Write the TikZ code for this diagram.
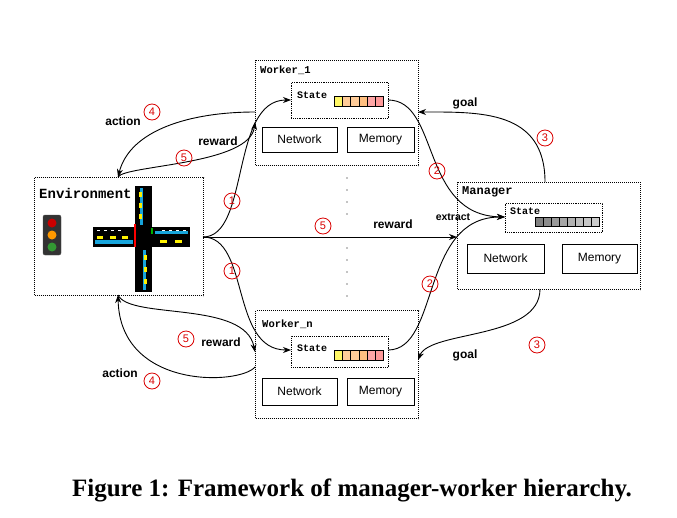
\documentclass[tikz,border=0pt]{standalone}
\usepackage{fontspec}
\setmainfont{Liberation Serif}
\setsansfont{Liberation Sans}
\newfontfamily\monof{Liberation Mono}
\usetikzlibrary{arrows.meta}
\begin{document}
\begin{tikzpicture}[x=1pt,y=-1pt,
  dbox/.style={draw,densely dotted,line width=1pt},
  sbox/.style={draw,densely dotted,line width=0.8pt},
  plain/.style={draw,line width=0.9pt,inner sep=0pt,font=\sffamily\fontsize{12}{12}\selectfont},
  ttl/.style={font=\monof\bfseries\fontsize{10.5}{10.5}\selectfont,anchor=west,inner sep=0pt},
  stl/.style={font=\monof\bfseries\fontsize{10}{10}\selectfont,anchor=west,inner sep=0pt},
  lbl/.style={font=\sffamily\bfseries\fontsize{12}{12}\selectfont,inner sep=1pt},
  num/.style={circle,draw=red!85!black,text=red!85!black,font=\sffamily\fontsize{11}{11}\selectfont,inner sep=0.5pt,minimum size=16pt,line width=0.8pt},
  arr/.style={-{Stealth[length=8pt,width=6pt]},line width=0.9pt}]
\useasboundingbox (0,0) rectangle (677,517);
% Environment
\node[dbox,minimum width=169,minimum height=118,anchor=north west] (env) at (34,177) {};
\node[ttl,font=\monof\bfseries\fontsize{14}{14}\selectfont] (envt) at (39,193) {Environment};
\node[draw=gray!60!black,fill=black!80,rounded corners=2pt,minimum width=18,minimum height=40] (tl) at (52,235) {};
\node[circle,fill=red!80!black,inner sep=0,minimum size=9] (tr) at (52,223) {};
\node[circle,fill=orange!80!yellow,inner sep=0,minimum size=9] (ty) at (52,235) {};
\node[circle,fill=green!50!black!80,inner sep=0,minimum size=9] (tg) at (52,247) {};
\fill[black] (93,227) rectangle (190,247);
\fill[black] (135,186) rectangle (152,292);
\fill[cyan!80!teal] (140,188) rectangle (143,225);
\fill[cyan!80!teal] (143,250) rectangle (146,290);
\fill[cyan!80!teal] (95,240) rectangle (133,244);
\fill[cyan!80!teal] (155,231) rectangle (188,234);
\foreach \y in {192,203,214} \fill[yellow] (139,\y) rectangle (142,\y+5);
\foreach \y in {255,267,279} \fill[yellow] (144,\y) rectangle (147,\y+5);
\foreach \x in {97,110,122} \fill[yellow] (\x,236) rectangle (\x+6,239);
\foreach \x in {160,175} \fill[yellow] (\x,240) rectangle (\x+7,243);
\foreach \x in {97,104,111,118,162,169,176,183} \fill[white] (\x,230) rectangle (\x+3,231);
\fill[red] (134,224) rectangle (136,247);\fill[green!70!black] (151,228) rectangle (153,234);
% Worker_1
\node[dbox,minimum width=163,minimum height=105,anchor=north west] (w1) at (255,60) {};
\node[ttl] (w1t) at (260,70) {Worker\_1};
\node[sbox,minimum width=97,minimum height=36,anchor=north west] (w1s) at (291,82) {};
\node[stl] (w1st) at (297,95) {State};
\node[plain,minimum width=75,minimum height=25] (w1n) at (299.5,139.5) {Network};
\node[plain,minimum width=67,minimum height=25] (w1m) at (380.5,139.5) {Memory};
% Worker_n
\node[dbox,minimum width=163,minimum height=108,anchor=north west] (wn) at (255,310) {};
\node[ttl] (wnt) at (262,324) {Worker\_n};
\node[sbox,minimum width=97,minimum height=31,anchor=north west] (wns) at (291,336) {};
\node[stl] (wnst) at (297,348) {State};
\node[plain,minimum width=75,minimum height=27] (wnn) at (299.5,391.5) {Network};
\node[plain,minimum width=67,minimum height=27] (wnm) at (380.5,391.5) {Memory};
% colour cells
\foreach \i/\c in {0/yellow!60,1/orange!40,2/orange!40,3/orange!50,4/red!35,5/red!40}{
  \draw[fill=\c,line width=0.8pt] (334+\i*8.3,96) rectangle ++(8.3,10);
  \draw[fill=\c,line width=0.8pt] (334+\i*8.3,350) rectangle ++(8.3,10);}
% Manager
\node[dbox,minimum width=183,minimum height=107,anchor=north west] (m) at (457,182) {};
\node[ttl,font=\monof\bfseries\fontsize{12}{12}\selectfont] (mt) at (462,192) {Manager};
\node[sbox,minimum width=97,minimum height=29,anchor=north west] (ms) at (505,203) {};
\node[stl] (mst) at (510,211) {State};
\foreach \i/\c in {0/50,1/45,2/40,3/35,4/30,5/25,6/22,7/20}
  \draw[fill=black!\c,line width=0.8pt] (535+\i*8.1,217) rectangle ++(8.1,9);
\node[plain,minimum width=77,minimum height=29] (mn) at (505.5,258.5) {Network};
\node[plain,minimum width=75,minimum height=29] (mm) at (599.5,258.5) {Memory};
% dots
\foreach \y in {178,190,202,214,248,260,272,284,296} \fill (347,\y) circle (0.7);
% coordinates
\coordinate (eR) at (203,237);
\coordinate (eT) at (118,177);
\coordinate (eB) at (118,295);
\coordinate (w1L) at (255,112);
\coordinate (w1Lb) at (255,122);
\coordinate (w1sL) at (291,100);
\coordinate (w1sR) at (388,100);
\coordinate (w1R) at (418,112);
\coordinate (wnL) at (255,352);
\coordinate (wnLb) at (255,367);
\coordinate (wnsL) at (291,350);
\coordinate (wnsR) at (388,350);
\coordinate (wnR) at (418,360);
\coordinate (mL) at (457,237);
\coordinate (msL) at (505,217);
\coordinate (mT) at (545,182);
\coordinate (mB) at (540,289);
% arrows
\draw[arr] (eR) -- (mL);
\draw[arr] (eR) .. controls (250,237) and (230,100) .. (w1sL);
\draw[arr] (eR) .. controls (250,237) and (230,350) .. (wnsL);
\draw[arr] (w1L) .. controls (190,112) and (130,130) .. (eT);
\draw[arr] (eT) .. controls (125,165) and (250,165) .. (w1Lb);
\draw[arr] (eB) .. controls (130,320) and (245,300) .. (wnL);
\draw[arr] (wnLb) .. controls (240,385) and (120,390) .. (eB);
\draw[arr] (w1sR) .. controls (440,100) and (420,215) .. (msL);
\draw[arr] (wnsR) .. controls (440,350) and (420,217) .. (msL);
\draw[arr] (mT) .. controls (545,110) and (480,112) .. (w1R);
\draw[arr] (mB) .. controls (540,340) and (430,330) .. (wnR);
% labels
\node[num] (n5a) at (323,226) {5};
\node[lbl] (rw) at (393,224) {reward};
\node[lbl,font=\sffamily\bfseries\fontsize{10.5}{10.5}\selectfont] (ex) at (453,217) {extract};
\node[num] (n1a) at (232,201) {1};
\node[num] (n1b) at (232,271) {1};
\node[num] (n4a) at (152,112) {4};
\node[lbl] (ac1) at (123,121) {action};
\node[num] (n5b) at (184,158) {5};
\node[lbl] (rw1) at (218,141) {reward};
\node[num] (n5c) at (186,339) {5};
\node[lbl] (rw2) at (221,342) {reward};
\node[num] (n4b) at (152,381) {4};
\node[lbl] (ac2) at (120,373) {action};
\node[num] (n2a) at (437,171) {2};
\node[num] (n2b) at (430,284) {2};
\node[lbl] (g1) at (465,103) {goal};
\node[num] (n3a) at (545,138) {3};
\node[lbl] (g2) at (465,355) {goal};
\node[num] (n3b) at (537,345) {3};
\node[font=\bfseries\fontsize{25}{25}\selectfont] (cap) at (352,490) {Figure 1: Framework of manager-worker hierarchy.};
\end{tikzpicture}
\end{document}
